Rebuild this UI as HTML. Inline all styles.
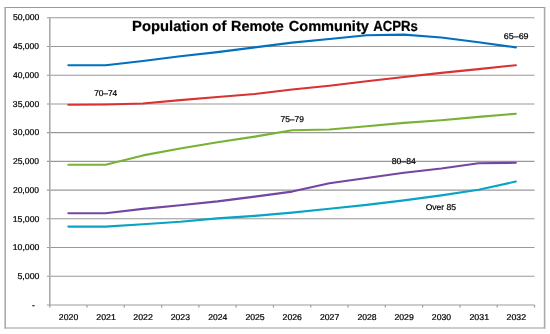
<!DOCTYPE html><html><head><meta charset="utf-8"><style>html,body{margin:0;padding:0;background:#fff;width:550px;height:334px;overflow:hidden}svg{display:block}text{font-family:"Liberation Sans",Arial,sans-serif;fill:#000;stroke:#000;stroke-width:0.22px;text-rendering:geometricPrecision}</style></head><body>
<svg width="550" height="334" viewBox="0 0 550 334">
<rect x="0" y="0" width="550" height="334" fill="#fff"/>
<path d="M4.5 7.5H545.3M4.5 328.0H545.3" fill="none" stroke="#999999" stroke-width="1.2"/>
<path d="M5.2 6.9V328.6M544.6 6.9V328.6" fill="none" stroke="#ababab" stroke-width="1.6"/>
<line x1="46.90" y1="276.27" x2="534.50" y2="276.27" stroke="#999999" stroke-width="1.1"/>
<line x1="46.90" y1="247.55" x2="534.50" y2="247.55" stroke="#999999" stroke-width="1.1"/>
<line x1="46.90" y1="218.82" x2="534.50" y2="218.82" stroke="#999999" stroke-width="1.1"/>
<line x1="46.90" y1="190.10" x2="534.50" y2="190.10" stroke="#999999" stroke-width="1.1"/>
<line x1="46.90" y1="161.38" x2="534.50" y2="161.38" stroke="#999999" stroke-width="1.1"/>
<line x1="46.90" y1="132.65" x2="534.50" y2="132.65" stroke="#999999" stroke-width="1.1"/>
<line x1="46.90" y1="103.93" x2="534.50" y2="103.93" stroke="#999999" stroke-width="1.1"/>
<line x1="46.90" y1="75.20" x2="534.50" y2="75.20" stroke="#999999" stroke-width="1.1"/>
<line x1="46.90" y1="46.48" x2="534.50" y2="46.48" stroke="#999999" stroke-width="1.1"/>
<line x1="46.90" y1="17.75" x2="534.50" y2="17.75" stroke="#999999" stroke-width="1.1"/>
<line x1="46.90" y1="305.00" x2="534.50" y2="305.00" stroke="#999999" stroke-width="1.1"/>
<line x1="49.80" y1="17.15" x2="49.80" y2="307.60" stroke="#ababab" stroke-width="1.6"/>
<line x1="86.99" y1="305.00" x2="86.99" y2="307.60" stroke="#a3a3a3" stroke-width="1.3"/>
<line x1="124.28" y1="305.00" x2="124.28" y2="307.60" stroke="#a3a3a3" stroke-width="1.3"/>
<line x1="161.58" y1="305.00" x2="161.58" y2="307.60" stroke="#a3a3a3" stroke-width="1.3"/>
<line x1="198.87" y1="305.00" x2="198.87" y2="307.60" stroke="#a3a3a3" stroke-width="1.3"/>
<line x1="236.16" y1="305.00" x2="236.16" y2="307.60" stroke="#a3a3a3" stroke-width="1.3"/>
<line x1="273.45" y1="305.00" x2="273.45" y2="307.60" stroke="#a3a3a3" stroke-width="1.3"/>
<line x1="310.75" y1="305.00" x2="310.75" y2="307.60" stroke="#a3a3a3" stroke-width="1.3"/>
<line x1="348.04" y1="305.00" x2="348.04" y2="307.60" stroke="#a3a3a3" stroke-width="1.3"/>
<line x1="385.33" y1="305.00" x2="385.33" y2="307.60" stroke="#a3a3a3" stroke-width="1.3"/>
<line x1="422.62" y1="305.00" x2="422.62" y2="307.60" stroke="#a3a3a3" stroke-width="1.3"/>
<line x1="459.92" y1="305.00" x2="459.92" y2="307.60" stroke="#a3a3a3" stroke-width="1.3"/>
<line x1="497.21" y1="305.00" x2="497.21" y2="307.60" stroke="#a3a3a3" stroke-width="1.3"/>
<line x1="534.50" y1="305.00" x2="534.50" y2="307.60" stroke="#a3a3a3" stroke-width="1.3"/>
<polyline points="68.35,65.20 105.64,65.20 142.93,61.00 180.22,56.20 217.52,52.10 254.81,47.40 292.10,42.60 329.39,39.00 366.68,35.20 403.98,34.60 441.27,37.50 478.56,42.20 515.85,47.40" fill="none" stroke="#0070c0" stroke-width="2.1" stroke-linejoin="round" stroke-linecap="round"/>
<polyline points="68.35,104.70 105.64,104.50 142.93,103.50 180.22,100.10 217.52,97.00 254.81,94.00 292.10,89.50 329.39,85.70 366.68,81.20 403.98,77.00 441.27,72.90 478.56,69.10 515.85,65.20" fill="none" stroke="#d93232" stroke-width="2.1" stroke-linejoin="round" stroke-linecap="round"/>
<polyline points="68.35,164.70 105.64,164.70 142.93,155.40 180.22,148.50 217.52,142.30 254.81,136.60 292.10,130.20 329.39,129.50 366.68,126.20 403.98,122.90 441.27,120.20 478.56,116.90 515.85,113.70" fill="none" stroke="#77b234" stroke-width="2.1" stroke-linejoin="round" stroke-linecap="round"/>
<polyline points="68.35,213.20 105.64,213.20 142.93,208.90 180.22,205.20 217.52,201.40 254.81,196.60 292.10,191.60 329.39,183.30 366.68,178.00 403.98,172.80 441.27,168.50 478.56,163.30 515.85,162.80" fill="none" stroke="#7446a0" stroke-width="2.1" stroke-linejoin="round" stroke-linecap="round"/>
<polyline points="68.35,226.60 105.64,226.60 142.93,224.20 180.22,221.80 217.52,218.40 254.81,215.90 292.10,212.60 329.39,208.80 366.68,204.90 403.98,200.40 441.27,195.40 478.56,189.80 515.85,181.50" fill="none" stroke="#08a4c4" stroke-width="2.1" stroke-linejoin="round" stroke-linecap="round"/>
<text x="132.13" y="30.90" font-size="14.60" font-weight="bold" textLength="76.39" lengthAdjust="spacingAndGlyphs">Population</text>
<text x="212.33" y="30.90" font-size="14.60" font-weight="bold" textLength="14.01" lengthAdjust="spacingAndGlyphs">of</text>
<text x="231.01" y="30.90" font-size="14.60" font-weight="bold" textLength="52.73" lengthAdjust="spacingAndGlyphs">Remote</text>
<text x="288.75" y="30.90" font-size="14.60" font-weight="bold" textLength="80.09" lengthAdjust="spacingAndGlyphs">Community</text>
<text x="373.26" y="30.90" font-size="14.60" font-weight="bold" textLength="44.68" lengthAdjust="spacingAndGlyphs">ACPRs</text>
<text x="17.48" y="279.00" font-size="8.40" textLength="22.04" lengthAdjust="spacingAndGlyphs">5,000</text>
<text x="12.70" y="250.00" font-size="8.40" textLength="26.67" lengthAdjust="spacingAndGlyphs">10,000</text>
<text x="12.70" y="222.00" font-size="8.40" textLength="26.67" lengthAdjust="spacingAndGlyphs">15,000</text>
<text x="12.91" y="193.00" font-size="8.40" textLength="26.01" lengthAdjust="spacingAndGlyphs">20,000</text>
<text x="12.91" y="164.00" font-size="8.40" textLength="26.01" lengthAdjust="spacingAndGlyphs">25,000</text>
<text x="12.88" y="135.00" font-size="8.40" textLength="26.29" lengthAdjust="spacingAndGlyphs">30,000</text>
<text x="12.88" y="107.00" font-size="8.40" textLength="26.29" lengthAdjust="spacingAndGlyphs">35,000</text>
<text x="12.99" y="78.00" font-size="8.40" textLength="25.94" lengthAdjust="spacingAndGlyphs">40,000</text>
<text x="12.99" y="49.00" font-size="8.40" textLength="25.94" lengthAdjust="spacingAndGlyphs">45,000</text>
<text x="13.04" y="20.00" font-size="8.40" textLength="26.39" lengthAdjust="spacingAndGlyphs">50,000</text>
<text x="32.06" y="307.60" font-size="8.70">-</text>
<text x="58.89" y="320.13" font-size="8.40" textLength="19.35" lengthAdjust="spacingAndGlyphs">2020</text>
<text x="96.35" y="320.22" font-size="8.40" textLength="19.56" lengthAdjust="spacingAndGlyphs">2021</text>
<text x="133.30" y="320.13" font-size="8.40" textLength="19.54" lengthAdjust="spacingAndGlyphs">2022</text>
<text x="170.77" y="320.08" font-size="8.40" textLength="19.20" lengthAdjust="spacingAndGlyphs">2023</text>
<text x="208.24" y="320.27" font-size="8.40" textLength="19.04" lengthAdjust="spacingAndGlyphs">2024</text>
<text x="245.40" y="320.14" font-size="8.40" textLength="19.29" lengthAdjust="spacingAndGlyphs">2025</text>
<text x="282.62" y="320.08" font-size="8.40" textLength="19.34" lengthAdjust="spacingAndGlyphs">2026</text>
<text x="319.92" y="320.29" font-size="8.40" textLength="19.39" lengthAdjust="spacingAndGlyphs">2027</text>
<text x="357.44" y="320.22" font-size="8.40" textLength="19.19" lengthAdjust="spacingAndGlyphs">2028</text>
<text x="394.40" y="320.19" font-size="8.40" textLength="19.39" lengthAdjust="spacingAndGlyphs">2029</text>
<text x="431.83" y="320.14" font-size="8.40" textLength="19.24" lengthAdjust="spacingAndGlyphs">2030</text>
<text x="469.43" y="320.25" font-size="8.40" textLength="19.68" lengthAdjust="spacingAndGlyphs">2031</text>
<text x="506.54" y="320.13" font-size="8.40" textLength="19.53" lengthAdjust="spacingAndGlyphs">2032</text>
<text x="503.76" y="38.75" font-size="8.40" textLength="24.83" lengthAdjust="spacingAndGlyphs">65–69</text>
<text x="94.13" y="96.27" font-size="8.40" textLength="23.02" lengthAdjust="spacingAndGlyphs">70–74</text>
<text x="280.47" y="121.87" font-size="8.40" textLength="23.48" lengthAdjust="spacingAndGlyphs">75–79</text>
<text x="391.83" y="164.31" font-size="8.40" textLength="23.87" lengthAdjust="spacingAndGlyphs">80–84</text>
<text x="425.69" y="210.23" font-size="8.40" textLength="30.40" lengthAdjust="spacingAndGlyphs">Over 85</text>
</svg></body></html>
